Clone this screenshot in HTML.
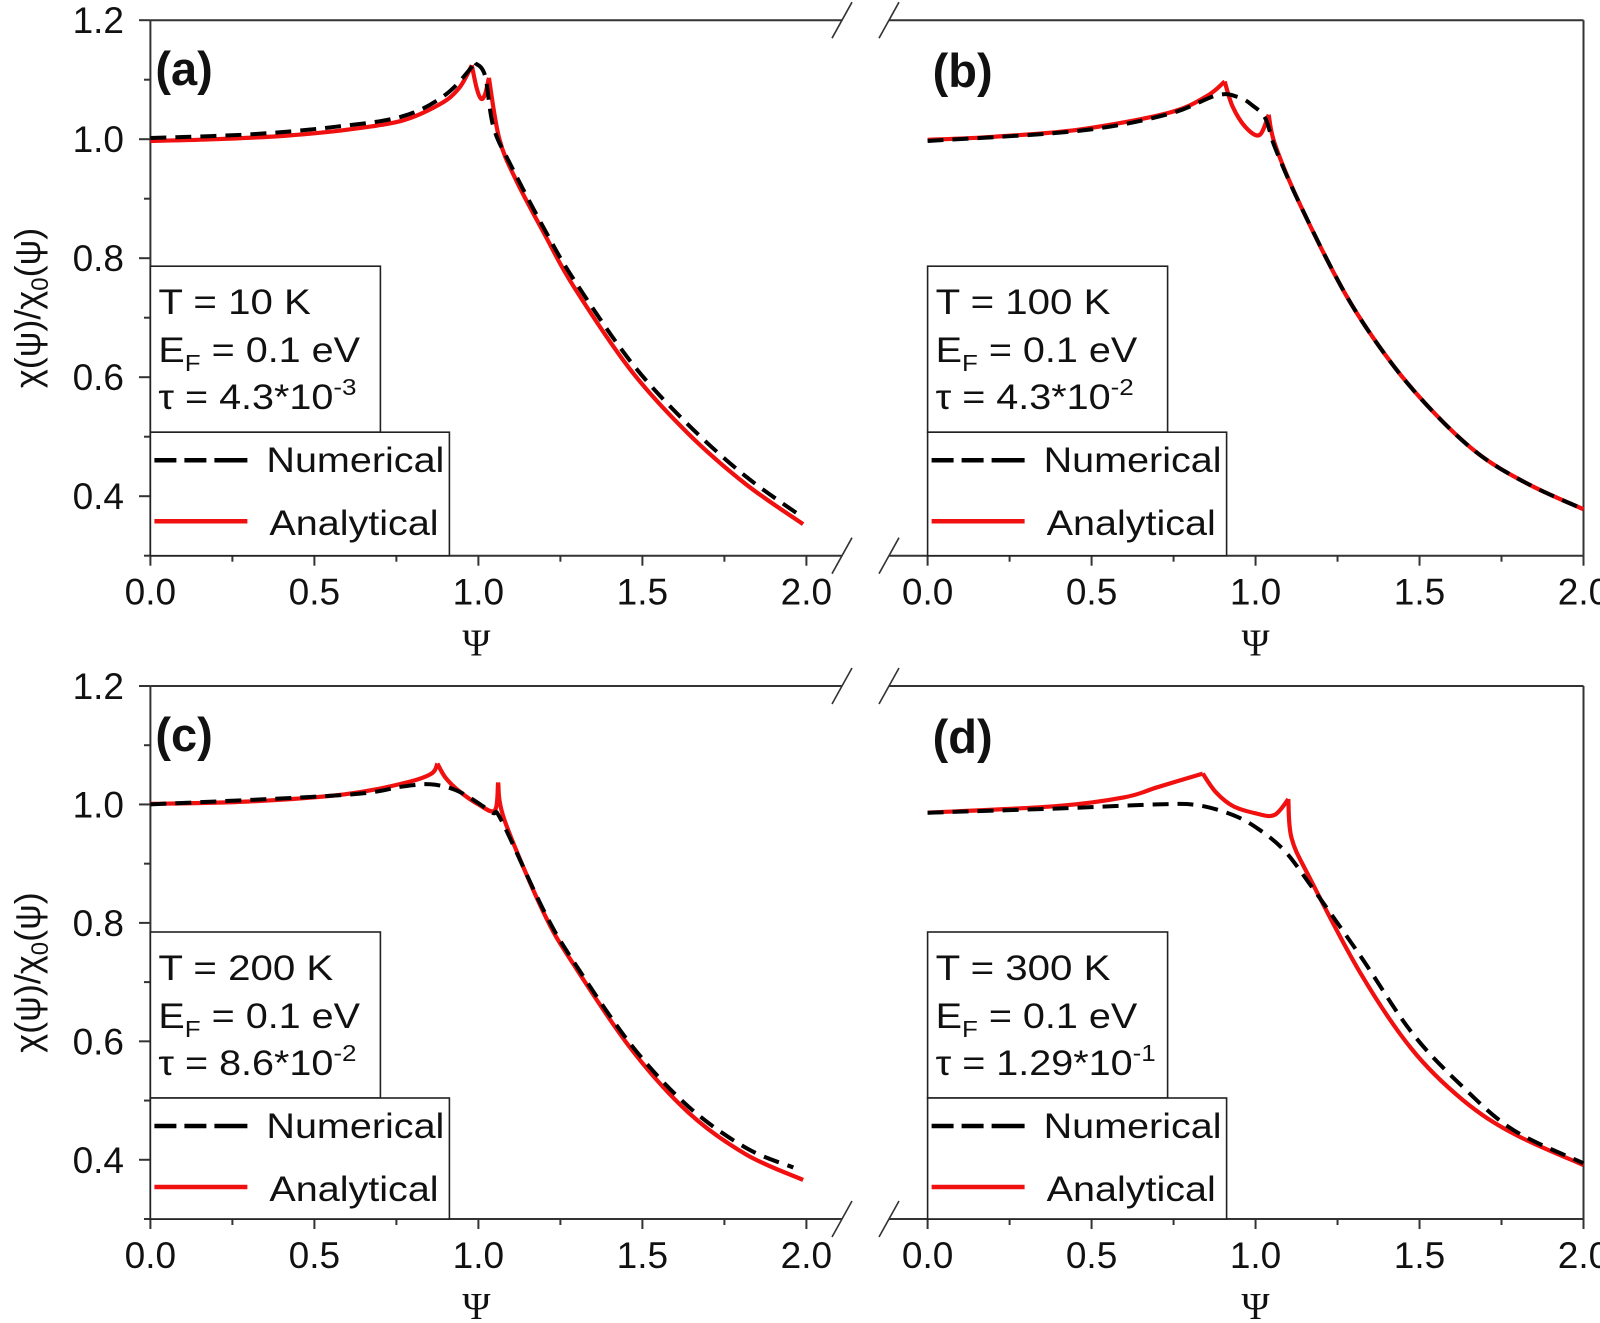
<!DOCTYPE html>
<html><head><meta charset="utf-8">
<style>
html,body{margin:0;padding:0;background:#fff;}
svg{display:block;}
text{font-family:"Liberation Sans",Arial,sans-serif;fill:#111;}
.tk{font-size:37px;}
.lg{font-size:35px;}
.pl{font-size:47px;font-weight:bold;}
.psi{font-family:"Liberation Serif","DejaVu Serif",serif;font-size:38px;}
</style></head>
<body>
<svg id="s" width="1600" height="1323" viewBox="0 0 1600 1323" xmlns="http://www.w3.org/2000/svg">
<g id="g"></g>
</svg>
<script>
const NS="http://www.w3.org/2000/svg";
const g=document.getElementById('g');
function el(t,a,txt,parent){const e=document.createElementNS(NS,t);for(const k in a)e.setAttribute(k,a[k]);if(txt!==undefined)e.textContent=txt;(parent||g).appendChild(e);return e;}
function line(x1,y1,x2,y2,w,c){el('line',{x1,y1,x2,y2,stroke:c||'#333','stroke-width':w||2});}
function txt(x,y,s,cls,anchor){return el('text',{x,y,class:cls,'text-anchor':anchor||'start'},s);}
function stxt(x,y,html,sx){const gg=el('g',{transform:`translate(${x},${y}) scale(${sx},1)`});const t=el('text',{x:0,y:0,class:'lg'},undefined,gg);t.innerHTML=html;return t;}

const rows=[{yT:20.2,yB:555.7},{yT:686,yB:1219}];
const cols=[{x0:150.4,x1:806.4},{x0:927.6,x1:1583.5}];
rows.forEach((r,ri)=>{
  line(150.4,r.yT,150.4,r.yB,2);
  line(1583.5,r.yT,1583.5,r.yB,2);
  line(150.4,r.yT,842,r.yT,2); line(889,r.yT,1583.5,r.yT,2);
  line(150.4,r.yB,842,r.yB,2); line(889,r.yB,1583.5,r.yB,2);
  [r.yT,r.yB].forEach(y=>{line(832,y+18,852,y-18,1.6);line(879,y+18,899,y-18,1.6);});
  const ys=v=>r.yT+(1.2-v)/0.9*(r.yB-r.yT);
  for(let v=0.3;v<=1.2001;v+=0.1){
    const maj=Math.abs(Math.round(v*10)%2)==0;
    const y=ys(v);
    line(maj?139:144,y,150.4,y,2);
    if(maj) txt(124,y+13,v.toFixed(1),'tk','end');
  }
  cols.forEach(c=>{
    for(let i=0;i<=8;i++){
      const x=c.x0+i*0.25*(c.x1-c.x0)/2;
      line(x,r.yB,x,r.yB+(i%2==0?10:6),2);
      if(i%2==0) txt(x,r.yB+49,(i*0.25).toFixed(1),'tk','middle');
    }
    txt((c.x0+c.x1)/2+(c===cols[0]?-2:0),r.yB+100,'Ψ','psi','middle');
  });
  const cy=(r.yT+r.yB)/2+20;
  const t=el('text',{x:0,y:0,transform:`translate(40,${cy}) rotate(-90)`,'text-anchor':'middle',style:'font-size:36px'});
  t.innerHTML='χ(ψ)/χ<tspan font-size="24" dy="8">0</tspan><tspan dy="-8">(ψ)</tspan>';
});

const panels=[
 {r:0,c:0,lab:'(a)',T:'T = 10 K',tau:'4.3*10',ex:'-3',
  red:[[[0,0.997],[0.2,1.0],[0.416,1.006],[0.6,1.016],[0.766,1.031],[0.88,1.058],[0.94,1.085],[0.98,1.124]],
       [[0.98,1.124],[0.995,1.085],[1.008,1.068],[1.02,1.075],[1.032,1.103]],
       [[1.032,1.103],[1.064,1.0],[1.116,0.93],[1.204,0.838],[1.29,0.753],[1.466,0.611],[1.64,0.505],[1.816,0.42],[1.99,0.353]]],
  blk:[[[0,1.002],[0.3,1.008],[0.55,1.02],[0.766,1.038],[0.9,1.075],[0.99,1.128]],
       [[0.99,1.128],[1.02,1.107],[1.046,1.02],[1.1,0.955],[1.2,0.85],[1.29,0.765],[1.466,0.625],[1.64,0.52],[1.816,0.433],[1.99,0.364]]]},
 {r:0,c:1,lab:'(b)',T:'T = 100 K',tau:'4.3*10',ex:'-2',
  red:[[[0,0.999],[0.2,1.004],[0.46,1.016],[0.733,1.044],[0.85,1.072],[0.906,1.097]],
       [[0.906,1.097],[0.93,1.055],[0.97,1.02],[1.012,1.007],[1.04,1.041]],
       [[1.04,1.041],[1.06,0.99],[1.14,0.885],[1.278,0.736],[1.414,0.624],[1.55,0.537],[1.687,0.468],[1.84,0.418],[2.0,0.378]]],
  blk:[[[0,0.997],[0.46,1.014],[0.733,1.042],[0.883,1.074],[0.95,1.07],[0.99,1.057],[1.03,1.035],[1.06,0.985],[1.14,0.885],[1.278,0.736],[1.414,0.624],[1.55,0.537],[1.687,0.468],[1.84,0.418],[2.0,0.378]]]},
 {r:1,c:0,lab:'(c)',T:'T = 200 K',tau:'8.6*10',ex:'-2',
  red:[[[0,1.001],[0.3,1.005],[0.59,1.017],[0.766,1.035],[0.854,1.051],[0.875,1.069]],
       [[0.875,1.069],[0.9,1.045],[0.94,1.023],[1.0,1.0],[1.05,0.99],[1.06,1.037]],
       [[1.06,1.037],[1.08,0.973],[1.2,0.816],[1.29,0.73],[1.466,0.587],[1.64,0.48],[1.816,0.409],[1.99,0.366]]],
  blk:[[[0,1.0],[0.59,1.016],[0.766,1.03],[0.854,1.034],[0.94,1.022],[1.04,0.987],[1.07,0.973],[1.2,0.82],[1.29,0.735],[1.466,0.594],[1.64,0.49],[1.816,0.42],[1.96,0.387]]]},
 {r:1,c:1,lab:'(d)',T:'T = 300 K',tau:'1.29*10',ex:'-1',
  red:[[[0,0.986],[0.389,0.997],[0.6,1.012],[0.7,1.029],[0.839,1.052]],
       [[0.839,1.052],[0.88,1.02],[0.932,0.997],[1.0,0.985],[1.057,0.982],[1.1,1.009]],
       [[1.1,1.009],[1.11,0.943],[1.166,0.875],[1.32,0.715],[1.476,0.587],[1.632,0.501],[1.787,0.444],[2.0,0.391]]],
  blk:[[[0,0.986],[0.389,0.993],[0.7,1.0],[0.82,0.999],[0.932,0.982],[1.01,0.958],[1.088,0.922],[1.166,0.865],[1.32,0.744],[1.476,0.615],[1.632,0.523],[1.787,0.45],[2.0,0.394]]]}
];

function crPath(pts){
  let d=`M${pts[0][0].toFixed(1)},${pts[0][1].toFixed(1)}`;
  for(let i=0;i<pts.length-1;i++){
    const p0=pts[i-1]||pts[i],p1=pts[i],p2=pts[i+1],p3=pts[i+2]||p2;
    const c1=[p1[0]+(p2[0]-p0[0])/6,p1[1]+(p2[1]-p0[1])/6];
    const c2=[p2[0]-(p3[0]-p1[0])/6,p2[1]-(p3[1]-p1[1])/6];
    d+=` C${c1[0].toFixed(1)},${c1[1].toFixed(1)} ${c2[0].toFixed(1)},${c2[1].toFixed(1)} ${p2[0].toFixed(1)},${p2[1].toFixed(1)}`;
  }
  return d;
}
panels.forEach(p=>{
  const r=rows[p.r],c=cols[p.c];
  const X=v=>c.x0+v*(c.x1-c.x0)/2, Y=v=>r.yT+(1.2-v)/0.9*(r.yB-r.yT);
  const dr=p.red.map(s=>crPath(s.map(q=>[X(q[0]),Y(q[1])]))).join(' ');
  el('path',{d:dr,fill:'none',stroke:'#f01010','stroke-width':4.2,'stroke-linejoin':'round'});
  const db=p.blk.map(s=>crPath(s.map(q=>[X(q[0]),Y(q[1])]))).join(' ');
  el('path',{d:db,fill:'none',stroke:'#000','stroke-width':4,'stroke-dasharray':'16 9'});
  txt(c.x0+5,r.yT+(p.c==0?65:67),p.lab,'pl');
  const bx=c.x0, by=r.yT+246, bw=(p.c==0?230:240);
  el('rect',{x:bx,y:by,width:bw,height:166,fill:'#fff',stroke:'#222','stroke-width':1.6});
  el('rect',{x:bx,y:by+166,width:299,height:(r.yB-(by+166)),fill:'#fff',stroke:'#222','stroke-width':1.6});
  stxt(bx+8,by+48,p.T,1.15);
  stxt(bx+8,by+96,'E<tspan font-size="23" dy="9">F</tspan><tspan dy="-9"> = 0.1 eV</tspan>',1.13);
  stxt(bx+8,by+143,'τ = '+p.tau+'<tspan font-size="23" dy="-14">'+p.ex+'</tspan>',1.13);
  const ly1=by+194, ly2=by+255;
  line(bx+4,ly1,bx+97,ly1,4.5,'#000');
  el('line',{x1:bx+4,y1:ly1,x2:bx+97,y2:ly1,stroke:'#fff','stroke-width':5,'stroke-dasharray':'0 22 8 22 8 100'});
  line(bx+4,ly2,bx+97,ly2,4.5,'#f01010');
  stxt(bx+116,ly1+12,'Numerical',1.13);
  stxt(bx+119,ly2+14,'Analytical',1.13);
});
</script>
</body></html>
